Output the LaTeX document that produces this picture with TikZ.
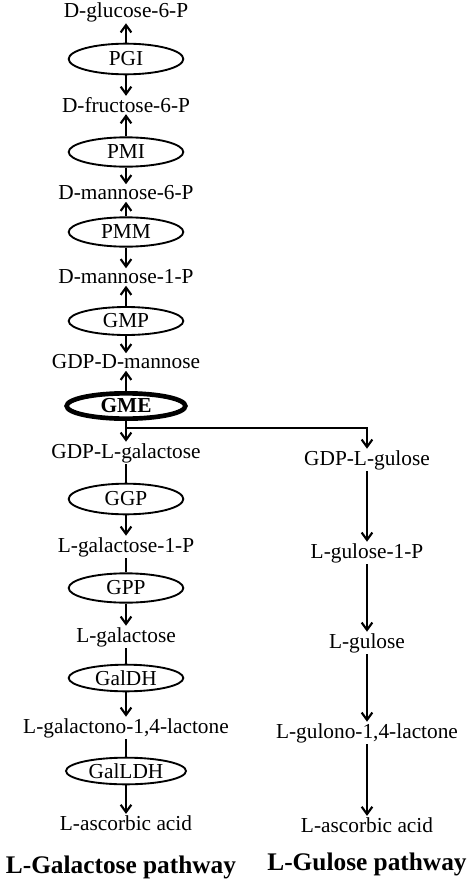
\documentclass[tikz,border=0pt]{standalone}
\usepackage{amsmath}
\usepackage{fontspec}
\setmainfont{Liberation Serif}
\usepackage{tikz}
\usetikzlibrary{shapes.geometric,arrows.meta}

\begin{document}
\begin{tikzpicture}[x=0.75pt,y=0.75pt,yscale=-1,xscale=1,
  met/.style={inner sep=1pt,font=\fontsize{16}{19}\selectfont},
  enz/.style={draw,ellipse,line width=1.4pt,minimum width=86pt,minimum height=22pt,inner sep=0pt,font=\fontsize{16}{19}\selectfont},
  arr/.style={line width=1.6pt,-{Straight Barb[length=5.5pt,width=8pt,line width=1.6pt]}},
  ln/.style={line width=1.6pt},
  ttl/.style={font=\fontsize{19}{22}\selectfont\bfseries}]
\useasboundingbox (0,0) rectangle (474,892);

% Text Node
\node [met] (glc6p) at (126,12) {D-glucose-6-P};
\node [met] (fru6p) at (126,105) {D-fructose-6-P};
\node [met] (man6p) at (126,193) {D-mannose-6-P};
\node [met] (man1p) at (126,277) {D-mannose-1-P};
\node [met] (gdpman) at (126,362) {GDP-D-mannose};
\node [met] (gdpgal) at (126,453) {GDP-L-galactose};
\node [met] (gal1p) at (126,547) {L-galactose-1-P};
\node [met] (gal) at (126,637) {L-galactose};
\node [met] (galac) at (126,728) {L-galactono-1,4-lactone};
\node [met] (ascL) at (126,823) {L-ascorbic acid};
\node [met] (gdpgul) at (367,460) {GDP-L-gulose};
\node [met] (gul1p) at (367,553) {L-gulose-1-P};
\node [met] (gul) at (367,643) {L-gulose};
\node [met] (gulac) at (367,733) {L-gulono-1,4-lactone};
\node [met] (ascR) at (367,825) {L-ascorbic acid};

%Shape: Ellipse
\node [enz,minimum height=23pt] (pgi) at (126,59) {PGI};
\node [enz] (pmi) at (126,152) {PMI};
\node [enz] (pmm) at (126,232) {PMM};
\node [enz,minimum height=21pt] (gmp) at (126,321) {GMP};
\node [enz,line width=3.5pt,minimum width=89pt,minimum height=19pt] (gme) at (126,406) {\textbf{GME}};
\node [enz,minimum height=23pt] (ggp) at (126,499) {GGP};
\node [enz] (gpp) at (126,588) {GPP};
\node [enz,minimum height=20pt] (galdh) at (126,678) {GalDH};
\node [enz,minimum width=90pt,minimum height=20pt] (galldh) at (126,771) {GalLDH};

\coordinate (br) at (126,428);

%Straight Lines
\draw [arr] (pgi) -- (glc6p);
\draw [arr] (pgi) -- (fru6p);
\draw [arr] (pmi) -- (fru6p);
\draw [arr] (pmi) -- (man6p);
\draw [arr] (pmm) -- (man6p);
\draw [arr] (pmm) -- (man1p);
\draw [arr] (gmp) -- (man1p);
\draw [arr] (gmp) -- (gdpman);
\draw [arr] (gme) -- (gdpman);
\draw [arr] (gme) -- (gdpgal);
\draw [arr] (br) -| (gdpgul);
\draw [ln] (gdpgal) -- (ggp);
\draw [arr] (ggp) -- (gal1p);
\draw [ln] (gal1p) -- (gpp);
\draw [arr] (gpp) -- (gal);
\draw [ln] (gal) -- (galdh);
\draw [arr] (galdh) -- (galac);
\draw [ln] (galac) -- (galldh);
\draw [arr] (galldh) -- (ascL);
\draw [arr] (gdpgul) -- (gul1p);
\draw [arr] (gul1p) -- (gul);
\draw [arr] (gul) -- (gulac);
\draw [arr] (gulac) -- (ascR);

% Text Node
\node [ttl] (tgal) at (121,867) {L-Galactose pathway};
\node [ttl] (tgul) at (367,864) {L-Gulose pathway};

\end{tikzpicture}
\end{document}
